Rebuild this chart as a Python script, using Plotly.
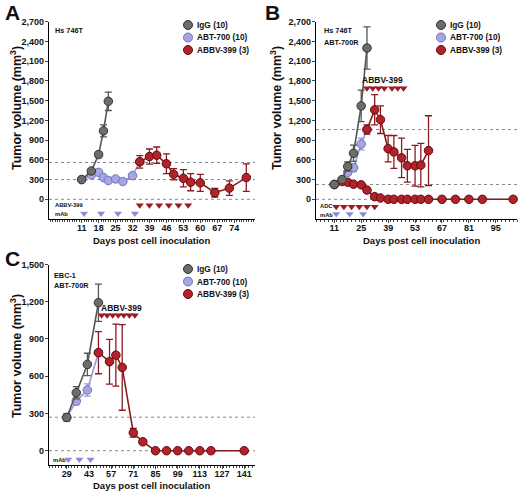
import plotly.graph_objects as go

W, H = 520, 492

# ---- panel A : Hs 746T ----
a_igg_day = [11, 15, 18, 20, 22]
a_igg_vol = [300, 430, 680, 1040, 1490]
a_igg_err = [20, 30, 45, 90, 140]
a_abt_day = [11, 15, 18, 20, 22, 25, 28, 32]
a_abt_vol = [300, 370, 410, 330, 285, 310, 270, 360]
a_abt_err = [15, 20, 25, 20, 15, 20, 15, 25]
a_399_day = [35, 39, 42, 46, 49, 53, 56, 60, 66, 72, 79]
a_399_vol = [570, 650, 670, 540, 380, 320, 260, 250, 100, 170, 330]
a_399_err = [95, 115, 125, 150, 85, 130, 130, 130, 65, 110, 210]
a_dose_399 = [35, 39, 43, 47, 51, 55]
a_dose_mab = [12, 19, 26, 33]
a_ref = [0, 300, 560]
a_xticks = [11, 18, 25, 32, 39, 46, 53, 60, 67, 74]

# ---- panel B : Hs 746T ABT-700R ----
b_igg_day = [11, 15, 18, 21, 25, 28]
b_igg_vol = [225, 300, 500, 700, 1420, 2300]
b_igg_err = [20, 30, 70, 125, 240, 320]
b_abt_day = [11, 15, 18, 21, 25]
b_abt_vol = [225, 290, 410, 480, 840]
b_abt_err = [15, 25, 40, 60, 90]
b_399r_day = [28, 32, 35, 39, 42, 46, 49, 53, 56, 60]
b_399r_vol = [1060, 1360, 1210, 770, 720, 630, 510, 510, 520, 740]
b_399r_err = [70, 230, 210, 200, 250, 300, 250, 310, 330, 530]
b_399_day = [11, 15, 18, 21, 25, 28, 32, 35, 39, 42, 46, 49, 53, 56, 60, 67, 74, 81, 88, 104]
b_399_vol = [225, 270, 260, 230, 220, 140, 40, 20, 0, 0, 0, 0, 0, 0, 0, 0, 0, 0, 0, 0]
b_399_err = [15, 20, 20, 20, 20, 20, 10, 5, 0, 0, 0, 0, 0, 0, 0, 0, 0, 0, 0, 0]
b_dose_adc = [12, 16, 20, 24, 28, 32]
b_dose_mab = [12, 19, 26]
b_dose_399 = [28, 31, 34, 37, 41, 44, 47]
b_ref = [0, 225, 1060]
b_xticks = [11, 25, 39, 53, 67, 81, 95]

# ---- panel C : EBC-1 ABT-700R ----
c_igg_day = [29, 35, 42, 49]
c_igg_vol = [268, 467, 695, 1192]
c_igg_err = [30, 50, 90, 150]
c_abt_day = [29, 35, 42]
c_abt_vol = [268, 400, 489]
c_abt_err = [20, 30, 50]
c_399_day = [49, 56, 60, 64, 71, 77, 85, 92, 99, 106, 113, 120, 141]
c_399_vol = [790, 717, 770, 671, 145, 72, 0, 0, 0, 0, 0, 0, 0]
c_399_err = [170, 180, 250, 345, 35, 12, 0, 0, 0, 0, 0, 0, 0]
c_dose_mab = [30, 37, 44]
c_dose_399 = [51, 54.5, 58, 61.5, 65, 68.5, 72]
c_ref = [0, 270]
c_xticks = [29, 43, 57, 71, 85, 99, 113, 127, 141]

yticks_ab = [0, 300, 600, 900, 1200, 1500, 1800, 2100, 2400, 2700]
yticks_c = [0, 300, 600, 900, 1200, 1500]

groups = ["IgG (10)", "ABT-700 (10)", "ABBV-399 (3)"]

GRAY = dict(line="#555555", fill="#6c6c6c", edge="#333333")
BLUE = dict(line="#9a9ad8", fill="#a6a6e2", edge="#7272ba")
RED = dict(line="#8a1a1f", fill="#b1232b", edge="#650b0f")
FONT = "Liberation Sans, Arial, sans-serif"


def fx(px):
    return px / W


def fy(py):
    return 1 - py / H


fig = go.Figure()


def series(ax, day, vol, err, c):
    fig.add_trace(go.Scatter(
        x=day, y=vol, xaxis="x" + ax, yaxis="y" + ax, mode="lines+markers",
        line=dict(color=c["line"], width=1.6),
        marker=dict(size=8.5, color=c["fill"], line=dict(color=c["edge"], width=1)),
        error_y=dict(type="data", array=err, color=c["line"], thickness=1.3, width=3.5),
        showlegend=False, cliponaxis=False))


def doses(ax, day, yrow, color):
    fig.add_trace(go.Scatter(
        x=day, y=[yrow] * len(day), xaxis="x" + ax, yaxis="y" + ax, mode="markers",
        marker=dict(symbol="triangle-down", size=7, color=color, line=dict(width=0)),
        showlegend=False, cliponaxis=False))


def refs(ax, vals):
    for v in vals:
        fig.add_shape(type="line", xref=("x" + ax + " domain"), yref="y" + ax,
                      x0=0, x1=1, y0=v, y1=v, layer="below",
                      line=dict(color="#8a8a8a", width=1, dash="dot"))


# blue lines run on into the first ABBV-399 point (switch of treatment)
# panel A
refs("", a_ref)
series("", a_abt_day + a_399_day[:1], a_abt_vol + a_399_vol[:1], a_abt_err + [0], BLUE)
series("", a_399_day, a_399_vol, a_399_err, RED)
series("", a_igg_day, a_igg_vol, a_igg_err, GRAY)
doses("", a_dose_399, -92, "#9c1c22")
doses("", a_dose_mab, -215, "#8d8dd4")

# panel B
refs("2", b_ref)
series("2", b_abt_day + b_399r_day[:1], b_abt_vol + b_399r_vol[:1], b_abt_err + [0], BLUE)
series("2", b_399_day, b_399_vol, b_399_err, RED)
series("2", b_399r_day, b_399r_vol, b_399r_err, RED)
series("2", b_igg_day, b_igg_vol, b_igg_err, GRAY)
doses("2", b_dose_adc, -112, "#9c1c22")
doses("2", b_dose_mab, -225, "#8d8dd4")
doses("2", b_dose_399, 1690, "#9c1c22")

# panel C
refs("3", c_ref)
series("3", c_abt_day + c_399_day[:1], c_abt_vol + c_399_vol[:1], c_abt_err + [0], BLUE)
series("3", c_399_day, c_399_vol, c_399_err, RED)
series("3", c_igg_day, c_igg_vol, c_igg_err, GRAY)
doses("3", c_dose_mab, -70, "#8d8dd4")
doses("3", c_dose_399, 1092, "#9c1c22")


def xaxis(dom, rng, ticks, minor, anchor):
    return dict(domain=dom, range=rng, anchor=anchor, tickmode="array", tickvals=ticks,
                showline=True, linecolor="black", linewidth=1.3, ticks="outside",
                ticklen=3, tickwidth=1.3, showgrid=False, zeroline=False, automargin=False,
                ticklabelstandoff=-3,
                tickfont=dict(family=FONT, size=9, color="#111111", weight="bold"),
                minor=dict(tickmode="linear", tick0=0, dtick=minor, ticks="outside",
                           ticklen=2, tickwidth=0.8, showgrid=False))


def yaxis(dom, rng, ticks, anchor):
    return dict(domain=dom, range=rng, anchor=anchor, tickmode="array", tickvals=ticks,
                ticktext=[f"{v:,}" for v in ticks],
                showline=True, linecolor="black", linewidth=1.3, ticks="outside",
                ticklen=3, tickwidth=1.3, showgrid=False, zeroline=False, automargin=False,
                ticklabelstandoff=-1,
                tickfont=dict(family=FONT, size=9, color="#111111", weight="bold"))


fig.update_layout(
    width=W, height=H, margin=dict(l=0, r=0, t=0, b=0, autoexpand=False),
    paper_bgcolor="white", plot_bgcolor="white", showlegend=False,
    font=dict(family=FONT, color="#111111"),
    xaxis=xaxis([fx(49), fx(255)], [-2.5, 82.6], a_xticks, 1, "y"),
    yaxis=yaxis([fy(218.7), fy(21.7)], [-295, 2700], yticks_ab, "x"),
    xaxis2=xaxis([fx(316), fx(517)], [1.5, 106], b_xticks, 2, "y2"),
    yaxis2=yaxis([fy(218.7), fy(21.7)], [-295, 2700], yticks_ab, "x2"),
    xaxis3=xaxis([fx(49), fx(255)], [17.8, 147.8], c_xticks, 2, "y3"),
    yaxis3=yaxis([fy(465), fy(264.5)], [-115, 1500], yticks_c, "x3"),
)


def text(px, py, s, size=9, anchor="left", angle=0, color="#111111"):
    fig.add_annotation(x=fx(px), y=fy(py), xref="paper", yref="paper", text=s,
                       showarrow=False, xanchor=anchor, yanchor="middle", textangle=angle,
                       font=dict(family=FONT, size=size, color=color, weight="bold"))


# panel letters
text(3, 12, "A", 21)
text(263, 12, "B", 21)
text(3, 258, "C", 21)

# axis titles
ytitle = "Tumor volume (mm<sup>3</sup>)"
xtitle = "Days post cell inoculation"
text(16, 108, ytitle, 12.5, "center", -90)
text(276, 108, ytitle, 12.5, "center", -90)
text(16, 356, ytitle, 12.5, "center", -90)
text(151, 240, xtitle, 9.5, "center")
text(421, 240, xtitle, 9.5, "center")
text(151, 485, xtitle, 9.5, "center")

# cell line labels
text(53, 31, "Hs 746T", 7.3)
text(322, 30, "Hs 746T", 7.3)
text(322, 42.5, "ABT-700R", 7.3)
text(52, 275, "EBC-1", 7.3)
text(52, 285.5, "ABT-700R", 7.3)

# dosing row labels
text(53, 205, "ABBV-399", 5.8)
text(53, 213.5, "mAb", 5.8)
text(318, 206.5, "ADC", 5.8)
text(318, 214.5, "mAb", 5.8)
text(51, 459.5, "mAb", 5.8)
text(382, 80, "ABBV-399", 8.5, "center")
text(121, 308, "ABBV-399", 8.5, "center")

# legends (drawn by hand to keep the compact spacing)
for lx, ly0 in [(188, 25), (441, 25), (188, 269)]:
    for i, (name, c) in enumerate(zip(groups, [GRAY, BLUE, RED])):
        ly = ly0 + i * 12.5
        fig.add_shape(type="circle", xref="paper", yref="paper",
                      xsizemode="pixel", ysizemode="pixel",
                      xanchor=fx(lx), yanchor=fy(ly), x0=-4.5, x1=4.5, y0=-4.5, y1=4.5,
                      fillcolor=c["fill"], line=dict(color=c["edge"], width=1))
        text(lx + 7, ly, name, 8.3)

fig.write_html("out.html", config={"displayModeBar": False},
               post_script="document.body.style.margin='0';")
